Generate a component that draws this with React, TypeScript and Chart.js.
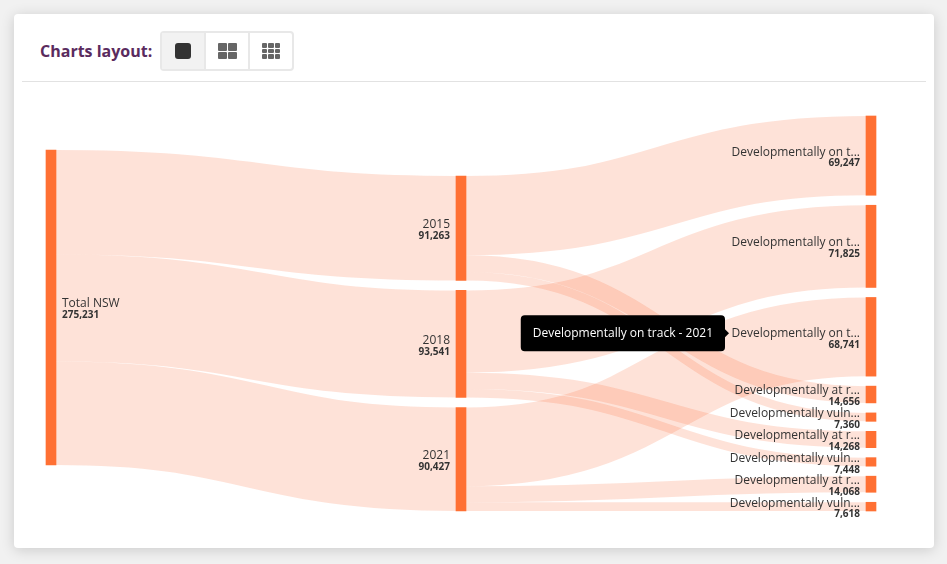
import React, { useEffect, useRef } from "react";
import { Chart, registerables, Tooltip } from "chart.js";

Chart.register(...registerables);

// ---- data ----
const nodeLabels = [
  "Total NSW", "2015", "2018", "2021",
  "Developmentally on t...", "Developmentally on t...", "Developmentally on t...",
  "Developmentally at r...", "Developmentally vuln...",
  "Developmentally at r...", "Developmentally vuln...",
  "Developmentally at r...", "Developmentally vuln...",
];
const nodeColumns = [0, 1, 1, 1, 2, 2, 2, 2, 2, 2, 2, 2, 2];
const linkSources = [0, 0, 0, 1, 1, 1, 2, 2, 2, 3, 3, 3];
const linkTargets = [1, 2, 3, 4, 7, 8, 5, 9, 10, 6, 11, 12];
const linkValues = [91263, 93541, 90427, 69247, 14656, 7360, 71825, 14268, 7448, 68741, 14068, 7618];
const tooltipText = "Developmentally on track - 2021";
const tooltipNode = 6;

// layout, in the units of the value axis
const NODE_GAP = 8737;
const COLUMN_TOPS = [29707, 52425, 0];
const BAR_WIDTH = 10;

const ORANGE = "#ff7033";
const LINK = "rgba(248,112,60,0.2)";
const TEXT = "#333333";
const FONT = '"Open Sans"';

const nodeValues = nodeLabels.map((_, i) => {
  let inSum = 0, outSum = 0;
  linkValues.forEach((v, k) => {
    if (linkTargets[k] === i) inSum += v;
    if (linkSources[k] === i) outSum += v;
  });
  return Math.max(inSum, outSum);
});

const nodeTops: number[] = [];
const colCursor = [...COLUMN_TOPS];
nodeValues.forEach((v, i) => {
  const c = nodeColumns[i];
  nodeTops[i] = colCursor[c];
  colCursor[c] += v + NODE_GAP;
});
const yMax = Math.max(...nodeValues.map((v, i) => nodeTops[i] + v));

(Tooltip.positioners as any).besideNodeLabel = function (items: any[]) {
  if (!items.length) return false;
  const el = items[0].element;
  return { x: el.x - 142, y: (el.y + el.base) / 2 - 3.5 };
};

const sankeyPlugin = {
  id: "sankeyLinks",
  beforeDatasetsDraw(chart: any) {
    const { ctx, scales } = chart;
    const srcOff = nodeValues.map(() => 0);
    const tgtOff = nodeValues.map(() => 0);
    ctx.save();
    ctx.strokeStyle = LINK;
    ctx.lineCap = "butt";
    linkValues.forEach((v, k) => {
      const s = linkSources[k], t = linkTargets[k];
      const y0 = scales.y.getPixelForValue(nodeTops[s] + srcOff[s] + v / 2);
      const y1 = scales.y.getPixelForValue(nodeTops[t] + tgtOff[t] + v / 2);
      srcOff[s] += v;
      tgtOff[t] += v;
      const x0 = scales.x.getPixelForValue(nodeColumns[s]) + BAR_WIDTH / 2;
      const x1 = scales.x.getPixelForValue(nodeColumns[t]) - BAR_WIDTH / 2;
      const mx = (x0 + x1) / 2;
      ctx.lineWidth = Math.abs(scales.y.getPixelForValue(v) - scales.y.getPixelForValue(0));
      ctx.beginPath();
      ctx.moveTo(x0, y0);
      ctx.bezierCurveTo(mx, y0, mx, y1, x1, y1);
      ctx.stroke();
    });
    ctx.restore();
  },
  afterDatasetsDraw(chart: any) {
    const { ctx, scales } = chart;
    ctx.save();
    ctx.fillStyle = TEXT;
    ctx.textBaseline = "middle";
    nodeLabels.forEach((name, i) => {
      const c = nodeColumns[i];
      const cx = scales.x.getPixelForValue(c);
      const cy = scales.y.getPixelForValue(nodeTops[i] + nodeValues[i] / 2);
      const left = c === 0;
      const x = left ? cx + BAR_WIDTH / 2 + 6 : cx - BAR_WIDTH / 2 - 6;
      ctx.textAlign = left ? "left" : "right";
      ctx.font = `12px ${FONT}`;
      ctx.fillText(name, x, cy - 3.5);
      ctx.font = `bold 10px ${FONT}`;
      ctx.fillText(nodeValues[i].toLocaleString("en-US"), x, cy + 8);
    });
    ctx.restore();
  },
};

function Cells({ n, w, h, gap, color }: { n: number; w: number; h: number; gap: number; color: string }) {
  const cells = [];
  for (let i = 0; i < n * n; i++) cells.push(<div key={i} style={{ width: w, height: h, background: color, borderRadius: 1 }} />);
  return (
    <div style={{ display: "grid", gridTemplateColumns: `repeat(${n}, ${w}px)`, gridAutoRows: `${h}px`, gap }}>{cells}</div>
  );
}

const btn: React.CSSProperties = {
  width: 42, height: 36, display: "flex", alignItems: "center", justifyContent: "center", boxSizing: "border-box",
};

export default function App() {
  const ref = useRef<HTMLCanvasElement>(null);
  useEffect(() => {
    const chart = new Chart(ref.current!, {
      type: "bar",
      data: {
        datasets: [
          {
            data: nodeValues.map((v, i) => ({ x: nodeColumns[i], y: [nodeTops[i], nodeTops[i] + v] })) as any,
            backgroundColor: ORANGE,
            hoverBackgroundColor: ORANGE,
            borderWidth: 0,
            barThickness: BAR_WIDTH,
            grouped: false,
            clip: false,
          } as any,
        ],
      },
      options: {
        animation: false,
        responsive: false,
        events: [],
        layout: { padding: { left: 10, right: 10, top: 26, bottom: 29 } },
        scales: {
          x: { type: "linear", display: false, min: 0, max: 2, offset: false },
          y: { type: "linear", display: false, min: 0, max: yMax, reverse: true },
        },
        plugins: {
          legend: { display: false },
          title: { display: false },
          tooltip: {
            enabled: true,
            animation: false,
            position: "besideNodeLabel" as any,
            xAlign: "right",
            yAlign: "center",
            backgroundColor: "#000000",
            bodyColor: "#ffffff",
            displayColors: false,
            cornerRadius: 4,
            caretSize: 4,
            caretPadding: 0,
            padding: { x: 12, y: 10.8 },
            bodyFont: { family: FONT, size: 12, lineHeight: 1.2 },
            callbacks: { title: () => "", label: () => tooltipText },
          },
        },
      },
      plugins: [sankeyPlugin],
    });
    chart.tooltip!.setActiveElements([{ datasetIndex: 0, index: tooltipNode }], { x: 0, y: 0 });
    chart.draw();
    return () => chart.destroy();
  }, []);

  return (
    <div style={{ position: "fixed", left: 0, top: 0, width: 947, height: 564, overflow: "hidden", background: "#f1f1f1", fontFamily: FONT }}>
      <div style={{ position: "absolute", left: 14, top: 14, width: 920, height: 534, background: "#fff", borderRadius: 4, boxShadow: "0 2px 14px rgba(0,0,0,0.16)" }} />
      <div style={{ position: "absolute", left: 40, top: 40, fontSize: 16, fontWeight: 700, lineHeight: "22px", color: "#5a2b5e" }}>Charts layout:</div>
      <div style={{ position: "absolute", left: 160, top: 31, width: 134, height: 40, boxSizing: "border-box", border: "2px solid #e8e8e8", borderRadius: 4, display: "flex" }}>
        <div style={{ ...btn, width: 44, background: "#f2f2f2", borderRight: "2px solid #e8e8e8" }}>
          <div style={{ width: 16.5, height: 16, background: "#333", borderRadius: 3 }} />
        </div>
        <div style={{ ...btn, width: 44, borderRight: "2px solid #e8e8e8" }}><Cells n={2} w={9} h={7.5} gap={1} color="#666" /></div>
        <div style={{ ...btn, width: 42 }}><Cells n={3} w={5.5} h={4.7} gap={1} color="#666" /></div>
      </div>
      <div style={{ position: "absolute", left: 22, top: 81, width: 904, height: 1, background: "#e2e2e2" }} />
      <canvas ref={ref} width={840} height={450} style={{ position: "absolute", left: 41, top: 90, width: 840, height: 450 }} />
    </div>
  );
}
